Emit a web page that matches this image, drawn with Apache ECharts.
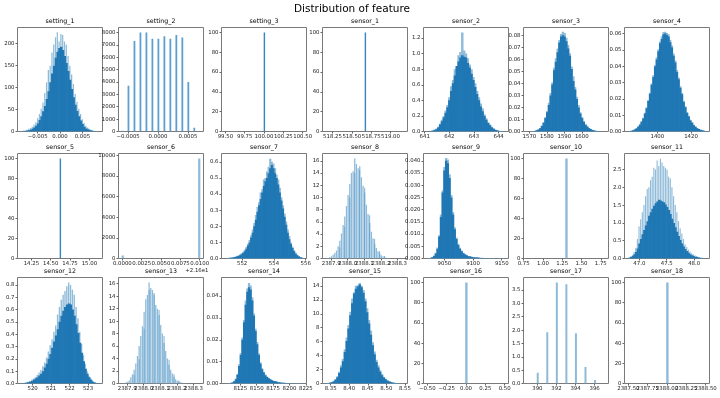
<!DOCTYPE html>
<html><head><meta charset="utf-8">
<script src="https://cdn.jsdelivr.net/npm/echarts@6/dist/echarts.min.js"></script>
<style>html,body{margin:0;padding:0;background:#fff}#c{width:720px;height:398px}</style>
</head><body><div id="c"></div>
<script>
const features = ['setting_1','setting_2','setting_3','sensor_1','sensor_2','sensor_3','sensor_4',
  'sensor_5','sensor_6','sensor_7','sensor_8','sensor_9','sensor_10','sensor_11',
  'sensor_12','sensor_13','sensor_14','sensor_15','sensor_16','sensor_17','sensor_18'];

// ---- tick labels ----
const setting_1_xticks = ['\u22120.005','0.000','0.005'];
const setting_1_yticks = ['0','50','100','150','200'];
const setting_2_xticks = ['\u22120.0005','0.0000','0.0005'];
const setting_2_yticks = ['0','1000','2000','3000','4000','5000','6000','7000','8000'];
const setting_3_xticks = ['99.50','99.75','100.00','100.25','100.50'];
const single_yticks = ['0','20','40','60','80','100'];
const sensor_1_xticks = ['518.25','518.50','518.75','519.00'];
const sensor_2_xticks = ['641','642','643','644'];
const sensor_2_yticks = ['0.0','0.2','0.4','0.6','0.8','1.0','1.2'];
const sensor_3_xticks = ['1570','1580','1590','1600'];
const sensor_3_yticks = ['0.00','0.01','0.02','0.03','0.04','0.05','0.06','0.07','0.08'];
const sensor_4_xticks = ['1400','1420'];
const sensor_4_yticks = ['0.00','0.01','0.02','0.03','0.04','0.05','0.06'];
const sensor_5_xticks = ['14.25','14.50','14.75','15.00'];
const sensor_6_xticks = ['0.0000','0.0025','0.0050','0.0075','0.0100'];
const sensor_6_yticks = ['0','2000','4000','6000','8000','10000'];
const sensor_7_xticks = ['552','554','556'];
const sensor_7_yticks = ['0.0','0.1','0.2','0.3','0.4','0.5','0.6'];
const sensor_8_xticks = ['2387.9','2388.0','2388.1','2388.2','2388.3'];
const sensor_8_yticks = ['0','2','4','6','8','10','12','14','16'];
const sensor_9_xticks = ['9050','9100','9150'];
const sensor_9_yticks = ['0.000','0.005','0.010','0.015','0.020','0.025','0.030','0.035','0.040'];
const sensor_10_xticks = ['0.75','1.00','1.25','1.50','1.75'];
const sensor_11_xticks = ['47.0','47.5','48.0'];
const sensor_11_yticks = ['0.0','0.5','1.0','1.5','2.0','2.5'];
const sensor_12_xticks = ['520','521','522','523'];
const sensor_12_yticks = ['0.0','0.1','0.2','0.3','0.4','0.5','0.6','0.7','0.8'];
const sensor_13_xticks = ['2387.9','2388.0','2388.1','2388.2','2388.3'];
const sensor_13_yticks = ['0','2','4','6','8','10','12','14','16'];
const sensor_14_xticks = ['8125','8150','8175','8200','8225'];
const sensor_14_yticks = ['0.00','0.01','0.02','0.03','0.04'];
const sensor_15_xticks = ['8.35','8.40','8.45','8.50','8.55'];
const sensor_15_yticks = ['0','2','4','6','8','10','12','14'];
const sensor_16_xticks = ['\u22120.50','\u22120.25','0.00','0.25','0.50'];
const sensor_17_xticks = ['390','392','394','396'];
const sensor_17_yticks = ['0.0','0.5','1.0','1.5','2.0','2.5','3.0','3.5'];
const sensor_18_xticks = ['2387.50','2387.75','2388.00','2388.25','2388.50'];

// ---- histogram data: bins = [first edge, bin width]; heights = density ----
const setting_1_bins = [-0.0088, 0.0004];
const setting_1_light = [1,2,3,4,6,8,11,16,21,30,40,52,66,88,112,140,150,180,198,215,226,205,222,220,205,198,172,150,130,108,86,68,52,40,28,20,13,9,6,4,2,1,1,0];
const setting_1_dark = [0,1,1,2,3,4,6,9,13,18,26,35,46,58,74,92,112,132,150,168,182,190,193,186,172,156,138,118,97,78,61,47,35,25,17,11,7,5,3,2,1,1,0,0];

const setting_2_x = [-0.0006,-0.0005,-0.0004,-0.0003,-0.0002,-0.0001,0,0.0001,0.0002,0.0003,0.0004,0.0005,0.0006];
const setting_2_h = [60,3700,7300,8000,8000,7500,7500,7700,7500,7800,7600,4000,300];

const setting_3_x = [100]; const setting_3_h = [100];
const sensor_1_x = [518.67]; const sensor_1_h = [100];

const sensor_2_bins = [641.2, 0.075];
const sensor_2_light = [0.01,0.015,0.025,0.04,0.06,0.1,0.15,0.2,0.27,0.34,0.44,0.58,0.66,0.8,0.82,0.98,1.02,1.27,1.04,1.0,0.94,0.86,0.8,0.7,0.62,0.52,0.44,0.36,0.3,0.22,0.17,0.12,0.09,0.06,0.04,0.025,0.015,0.01,0.005,0.003];
const sensor_2_dark = [0.005,0.01,0.02,0.03,0.05,0.09,0.13,0.18,0.24,0.31,0.40,0.52,0.62,0.72,0.84,0.90,0.95,0.98,0.96,0.95,0.88,0.82,0.74,0.66,0.57,0.48,0.40,0.32,0.26,0.20,0.15,0.11,0.08,0.05,0.035,0.02,0.012,0.008,0.004,0.002];

const sensor_3_bins = [1569.5, 1];
const sensor_3_light = [0.0001,0.0002,0.0004,0.0007,0.0012,0.002,0.003,0.005,0.0078,0.012,0.017,0.024,0.032,0.041,0.053,0.061,0.069,0.076,0.081,0.083,0.082,0.078,0.072,0.065,0.054,0.046,0.037,0.029,0.022,0.016,0.012,0.0088,0.0062,0.0045,0.003,0.002,0.0014,0.0009,0.0006,0.0004,0.0002,0.0001,0.0001,0];
const sensor_3_dark = [0,0,0.0003,0.0005,0.001,0.0015,0.0027,0.0045,0.007,0.011,0.016,0.022,0.030,0.039,0.051,0.058,0.066,0.074,0.079,0.080,0.079,0.075,0.069,0.063,0.052,0.042,0.035,0.027,0.020,0.015,0.011,0.008,0.0055,0.004,0.0027,0.0018,0.0012,0.0008,0.0005,0.0003,0.0002,0.0001,0,0];

const sensor_4_bins = [1383, 1];
const sensor_4_light = [0.0003,0.0005,0.0008,0.0014,0.0021,0.0031,0.0044,0.0063,0.0084,0.0115,0.0148,0.0193,0.0238,0.0295,0.0345,0.0408,0.0455,0.0505,0.0552,0.0585,0.061,0.0612,0.0605,0.0596,0.0562,0.0528,0.0478,0.0436,0.0378,0.0332,0.0278,0.0236,0.0188,0.0155,0.0119,0.0096,0.0072,0.0056,0.0041,0.0031,0.0022,0.0016,0.0011,0.0008,0.0005,0.0003,0.0001];
const sensor_4_dark = [0.0002,0.0004,0.0007,0.0012,0.0019,0.0029,0.0041,0.006,0.008,0.0111,0.0142,0.0187,0.0231,0.0287,0.0334,0.0398,0.0442,0.0492,0.0541,0.0568,0.0597,0.0601,0.0592,0.0583,0.0548,0.0515,0.0464,0.0424,0.0365,0.0321,0.0268,0.0228,0.0181,0.0149,0.0114,0.0092,0.0068,0.0053,0.0038,0.0029,0.002,0.0015,0.001,0.0007,0.0004,0.0002,0.0001];

const sensor_5_x = [14.62]; const sensor_5_h = [100];

const sensor_6_x = [0, 0.0099]; const sensor_6_h = [300, 9700];

const sensor_7_bins = [551.0, 0.1];
const sensor_7_light = [0.003,0.004,0.005,0.006,0.008,0.011,0.015,0.02,0.025,0.032,0.042,0.055,0.072,0.092,0.115,0.145,0.18,0.22,0.27,0.32,0.35,0.41,0.43,0.49,0.5,0.54,0.57,0.62,0.6,0.59,0.56,0.52,0.49,0.44,0.38,0.33,0.28,0.23,0.18,0.14,0.1,0.075,0.052,0.035,0.024,0.015,0.009,0.005];
const sensor_7_dark = [0.002,0.003,0.004,0.005,0.007,0.009,0.012,0.016,0.02,0.026,0.034,0.045,0.06,0.08,0.1,0.13,0.16,0.2,0.24,0.29,0.33,0.37,0.41,0.45,0.48,0.5,0.53,0.56,0.58,0.56,0.53,0.5,0.46,0.41,0.36,0.31,0.26,0.21,0.16,0.12,0.09,0.065,0.045,0.03,0.02,0.012,0.007,0.004];

const sensor_8_bins = [2387.87, 0.01];
const sensor_8_light = [0.05,0.1,0.2,0.35,0.6,0.9,1.3,2.0,2.9,4.1,5.5,6.9,8.6,10.4,12.2,14.0,14.3,16.4,15.5,14.8,15.1,13.3,11.9,10.8,8.8,7.3,5.8,4.4,3.3,2.4,1.7,1.2,0.8,0.55,0.35,0.22,0.14,0.09,0.05,0.03,0.02,0.01,0.01,0,0];
const sensor_8_dark_x = [2387.95,2387.98,2388.01,2388.04,2388.07,2388.10,2388.13,2388.16,2388.19,2388.22];
const sensor_8_dark_h = [1.8,5.2,10.0,14.0,14.5,11.6,7.1,3.2,1.2,0.4];

const sensor_9_bins = [9021, 3];
const sensor_9_light = [0.0002,0.0003,0.0006,0.0012,0.0024,0.0045,0.0095,0.018,0.028,0.0375,0.0412,0.0405,0.0345,0.026,0.019,0.0128,0.0086,0.006,0.0044,0.0033,0.0024,0.0018,0.0014,0.001,0.0009,0.0007,0.0006,0.0005,0.0005,0.0004,0.0003,0.0003,0.0002,0.0002,0.0002,0.0002,0.0001,0.0001,0.0001,0.0001,0.0001,0.0001,0.0001,0.0001,0.0001];
const sensor_9_dark = [0.0001,0.0002,0.0005,0.001,0.002,0.004,0.009,0.017,0.027,0.036,0.040,0.039,0.033,0.025,0.018,0.012,0.008,0.0055,0.004,0.003,0.0022,0.0016,0.0012,0.0009,0.0008,0.0006,0.0005,0.0004,0.0004,0.0003,0.0002,0.0002,0.0002,0.0001,0.0002,0.0001,0.0001,0.0001,0,0.0001,0.0001,0,0.0001,0,0.0001];

const sensor_10_x = [1.3]; const sensor_10_h = [100];

const sensor_11_bins = [46.8, 0.03];
const sensor_11_light = [0.03,0.06,0.1,0.18,0.3,0.55,0.9,1.1,1.3,1.5,1.75,1.95,2.0,2.2,2.3,2.55,2.5,2.75,2.6,2.8,2.7,2.6,2.55,2.5,2.3,2.25,2.0,1.75,1.5,1.3,1.05,0.85,0.7,0.55,0.4,0.32,0.25,0.2,0.15,0.12,0.09,0.07,0.05,0.03,0.02,0.02,0.01];
const sensor_11_dark = [0.02,0.04,0.07,0.12,0.18,0.28,0.42,0.55,0.68,0.8,0.93,1.05,1.2,1.3,1.4,1.48,1.55,1.6,1.65,1.63,1.6,1.58,1.52,1.45,1.36,1.25,1.12,1.0,0.88,0.75,0.63,0.52,0.42,0.34,0.27,0.21,0.16,0.12,0.09,0.07,0.05,0.04,0.03,0.02,0.01,0.01,0.005];

const sensor_12_bins = [519.3, 0.1];
const sensor_12_light = [0.003,0.005,0.007,0.01,0.015,0.02,0.03,0.04,0.05,0.07,0.09,0.11,0.14,0.17,0.21,0.26,0.31,0.36,0.42,0.47,0.56,0.62,0.68,0.72,0.75,0.79,0.82,0.8,0.76,0.72,0.62,0.53,0.42,0.32,0.23,0.16,0.1,0.06,0.04,0.02,0.01,0.005,0.003];
const sensor_12_dark = [0.002,0.003,0.005,0.007,0.01,0.015,0.02,0.03,0.04,0.05,0.065,0.08,0.1,0.13,0.16,0.2,0.24,0.29,0.34,0.39,0.44,0.5,0.55,0.59,0.62,0.64,0.65,0.64,0.6,0.55,0.48,0.41,0.33,0.25,0.18,0.12,0.08,0.05,0.03,0.015,0.008,0.004,0.002];

const sensor_13_bins = [2387.87, 0.01];
const sensor_13_light = [0.05,0.08,0.15,0.3,0.5,1.0,1.5,2.2,3.2,4.4,6.0,7.6,9.2,11.5,13.5,14.2,16.2,15.3,15.0,14.5,12.6,12.0,11.0,9.4,8.0,6.5,5.2,4.0,3.0,2.2,1.6,1.1,0.7,0.45,0.3,0.2,0.12,0.08,0.05,0.03,0.02,0.01,0.01,0,0];
const sensor_13_dark_x = [2387.94,2387.97,2388.00,2388.03,2388.06,2388.09,2388.12,2388.15,2388.18,2388.21];
const sensor_13_dark_h = [1.4,3.9,8.8,15.0,14.2,11.8,7.6,3.8,1.5,0.5];

const sensor_14_bins = [8104, 2.5];
const sensor_14_light = [0.0001,0.0002,0.0003,0.0006,0.0012,0.0023,0.0045,0.0088,0.014,0.021,0.029,0.038,0.0435,0.046,0.0448,0.0395,0.032,0.025,0.019,0.0138,0.0097,0.007,0.0054,0.0041,0.0032,0.0026,0.002,0.0016,0.0013,0.0011,0.0009,0.0007,0.0006,0.0004,0.0003,0.0003,0.0002,0.0002,0.0001,0.0001,0.0001,0.0001,0.0001,0.0001,0.0001,0.0001];
const sensor_14_dark = [0,0.0001,0.0002,0.0005,0.001,0.002,0.004,0.008,0.013,0.02,0.028,0.036,0.042,0.044,0.043,0.038,0.031,0.024,0.018,0.013,0.009,0.0065,0.005,0.0038,0.003,0.0024,0.0019,0.0015,0.0012,0.001,0.0008,0.0006,0.0005,0.0004,0.0003,0.0002,0.0002,0.0001,0.0001,0.0001,0.0001,0.0001,0,0.0001,0,0.0001];

const sensor_15_bins = [8.33, 0.005];
const sensor_15_light = [0.03,0.05,0.08,0.13,0.22,0.38,0.65,1.05,1.7,2.6,3.5,4.9,6.6,8.4,10.3,12.2,13.1,14.0,14.1,14.4,14.0,13.4,12.2,10.8,9.1,7.6,5.9,4.6,3.4,2.6,1.9,1.35,0.95,0.68,0.47,0.32,0.21,0.14,0.09,0.06,0.04,0.02,0.02,0.01];
const sensor_15_dark = [0.02,0.03,0.05,0.09,0.17,0.3,0.55,0.9,1.5,2.3,3.2,4.5,6.1,7.9,9.8,11.5,12.9,13.6,13.9,14.2,13.8,13.0,11.8,10.2,8.6,7.0,5.5,4.2,3.1,2.3,1.7,1.2,0.85,0.6,0.4,0.28,0.18,0.12,0.08,0.05,0.03,0.02,0.01,0.01];

const sensor_16_x = [0]; const sensor_16_h = [100];
const sensor_17_x = [389,390,391,392,393,394,395,396];
const sensor_17_h = [0.02,0.4,1.92,3.78,3.72,1.88,0.62,0.13];
const sensor_18_x = [2388.0]; const sensor_18_h = [100];

// ---- styling / layout ----
const DARK = '#1f77b4', LIGHT = '#8fbbd9', MID = '#5d9fd0';
const FONT = '"DejaVu Sans", sans-serif';
const TICKFONT = 5.4;
const colLeft = [17.5, 118.5, 221.5, 322.5, 423.5, 523.5, 624.5];
const rowTop = [27.5, 153.5, 277.5];
const rowH = [104, 105, 106];
const plotW = 85;

const panels = [
  {xr:[-0.0095,0.0095], ymax:237, xt:setting_1_xticks, yt:setting_1_yticks,
   layers:[{bins:setting_1_bins,h:setting_1_light,c:LIGHT,gap:0.3},{bins:setting_1_bins,h:setting_1_dark,c:DARK}]},
  {xr:[-0.00066,0.00076], ymax:8400, xt:setting_2_xticks, yt:setting_2_yticks,
   layers:[{x:setting_2_x,h:setting_2_h,w:0.000013,c:MID,px:1.8}]},
  {xr:[99.45,100.55], ymax:105, xt:setting_3_xticks, yt:single_yticks,
   layers:[{x:setting_3_x,h:setting_3_h,w:0.01,c:'#3485c0',px:1.4}]},
  {xr:[518.12,519.22], ymax:105, xt:sensor_1_xticks, yt:single_yticks,
   layers:[{x:sensor_1_x,h:sensor_1_h,w:0.01,c:'#3485c0',px:1.4}]},
  {xr:[640.95,644.4], ymax:1.335, xt:sensor_2_xticks, yt:sensor_2_yticks,
   layers:[{bins:sensor_2_bins,h:sensor_2_light,c:LIGHT},{bins:sensor_2_bins,h:sensor_2_dark,c:DARK}]},
  {xr:[1566.6,1615.3], ymax:0.0865, xt:sensor_3_xticks, yt:sensor_3_yticks,
   layers:[{bins:sensor_3_bins,h:sensor_3_light,c:LIGHT},{bins:sensor_3_bins,h:sensor_3_dark,c:DARK}]},
  {xr:[1380.5,1431], ymax:0.0638, xt:sensor_4_xticks, yt:sensor_4_yticks,
   layers:[{bins:sensor_4_bins,h:sensor_4_light,c:LIGHT},{bins:sensor_4_bins,h:sensor_4_dark,c:DARK}]},
  {xr:[14.07,15.17], ymax:105, xt:sensor_5_xticks, yt:single_yticks,
   layers:[{x:sensor_5_x,h:sensor_5_h,w:0.01,c:'#3485c0',px:1.4}]},
  {xr:[-0.0005,0.0105], ymax:10185, xt:sensor_6_xticks, yt:sensor_6_yticks, offset:'+2.16e1',
   layers:[{x:sensor_6_x,h:sensor_6_h,w:0.0001,c:LIGHT,px:2.2}]},
  {xr:[550.7,556.05], ymax:0.652, xt:sensor_7_xticks, yt:sensor_7_yticks,
   layers:[{bins:sensor_7_bins,h:sensor_7_light,c:LIGHT},{bins:sensor_7_bins,h:sensor_7_dark,c:DARK}]},
  {xr:[2387.848,2388.36], ymax:17.2, xt:sensor_8_xticks, yt:sensor_8_yticks,
   layers:[{bins:sensor_8_bins,h:sensor_8_light,c:LIGHT,narrow:0.0046,px:1.3},{x:sensor_8_dark_x,h:sensor_8_dark_h,w:0.0046,c:MID,px:0.8}]},
  {xr:[9013.5,9161.8], ymax:0.043, xt:sensor_9_xticks, yt:sensor_9_yticks,
   layers:[{bins:sensor_9_bins,h:sensor_9_light,c:LIGHT},{bins:sensor_9_bins,h:sensor_9_dark,c:DARK}]},
  {xr:[0.748,1.85], ymax:105, xt:sensor_10_xticks, yt:single_yticks,
   layers:[{x:sensor_10_x,h:sensor_10_h,w:0.01,c:LIGHT,px:2.4}]},
  {xr:[46.73,48.28], ymax:2.95, xt:sensor_11_xticks, yt:sensor_11_yticks,
   layers:[{bins:sensor_11_bins,h:sensor_11_light,c:LIGHT,gap:0.3},{bins:sensor_11_bins,h:sensor_11_dark,c:DARK}]},
  {xr:[519.18,523.78], ymax:0.86, xt:sensor_12_xticks, yt:sensor_12_yticks,
   layers:[{bins:sensor_12_bins,h:sensor_12_light,c:LIGHT,gap:0.25},{bins:sensor_12_bins,h:sensor_12_dark,c:DARK}]},
  {xr:[2387.848,2388.36], ymax:17.0, xt:sensor_13_xticks, yt:sensor_13_yticks,
   layers:[{bins:sensor_13_bins,h:sensor_13_light,c:LIGHT,narrow:0.0046,px:1.3},{x:sensor_13_dark_x,h:sensor_13_dark_h,w:0.0046,c:MID,px:0.8}]},
  {xr:[8096.2,8226], ymax:0.0485, xt:sensor_14_xticks, yt:sensor_14_yticks,
   layers:[{bins:sensor_14_bins,h:sensor_14_light,c:LIGHT},{bins:sensor_14_bins,h:sensor_14_dark,c:DARK}]},
  {xr:[8.328,8.557], ymax:15.2, xt:sensor_15_xticks, yt:sensor_15_yticks,
   layers:[{bins:sensor_15_bins,h:sensor_15_light,c:LIGHT},{bins:sensor_15_bins,h:sensor_15_dark,c:DARK}]},
  {xr:[-0.55,0.55], ymax:105, xt:sensor_16_xticks, yt:single_yticks,
   layers:[{x:sensor_16_x,h:sensor_16_h,w:0.01,c:LIGHT,px:2.4}]},
  {xr:[388.55,397.45], ymax:3.97, xt:sensor_17_xticks, yt:sensor_17_yticks,
   layers:[{x:sensor_17_x,h:sensor_17_h,w:0.08,c:LIGHT,px:2.0}]},
  {xr:[2387.45,2388.55], ymax:105, xt:sensor_18_xticks, yt:single_yticks,
   layers:[{x:sensor_18_x,h:sensor_18_h,w:0.01,c:LIGHT,px:2.4}]}
];

function num(s){ return parseFloat(String(s).replace('\u2212','-')); }
function labelFor(list, v){
  let best = list[0], bd = Infinity;
  list.forEach(s => { const d = Math.abs(num(s) - v); if (d < bd) { bd = d; best = s; } });
  return best;
}
function buildLayer(L){
  const out = [];
  if (L.bins) {
    const s = L.bins[0], st = L.bins[1];
    const w = L.narrow || st;
    L.h.forEach((v,i) => { if (v > 0) out.push([s + i*st, s + i*st + w, v]); });
  } else {
    L.x.forEach((x,i) => { if (L.h[i] > 0) out.push([x, x + L.w, L.h[i]]); });
  }
  return out;
}
function makeRender(L){
  const gap = L.gap || 0, minPx = L.px || 0, contiguous = !!L.bins && !L.narrow && !gap;
  return function(params, api){
    const x0 = api.value(0), x1 = api.value(1), y = api.value(2);
    const pt = api.coord([x0, y]);
    const pb = api.coord([x1, 0]);
    let left = pt[0], w = pb[0] - pt[0];
    if (gap) { left += w*gap/2; w *= (1-gap); }
    if (contiguous) w += 0.6;
    if (w < minPx) { const c = (pt[0] + pb[0]) / 2; left = c - minPx/2; w = minPx; }
    return {type:'rect', shape:{x:left, y:pt[1], width:w, height:pb[1]-pt[1]}, style:{fill:L.c}};
  };
}
function textEl(x, y, text, size, align, valign, fill){
  return {type:'text', x:x, y:y, silent:true, style:{text:text, font:size + 'px ' + FONT, fill:fill || '#000',
    align:align, verticalAlign:valign, textAlign:align, textVerticalAlign:valign}};
}

const grids = [], xAxes = [], yAxes = [], series = [], graphics = [];
graphics.push(textEl(352, 9, 'Distribution of feature', 10.5, 'center', 'middle'));

panels.forEach((P, i) => {
  const r = Math.floor(i / 7), c = i % 7;
  grids.push({left:colLeft[c], top:rowTop[r], width:plotW, height:rowH[r], show:true,
    borderColor:'#7a7a7a', borderWidth:1, backgroundColor:'transparent', containLabel:false, outerBoundsMode:'none'});
  const xv = P.xt.map(num), yv = P.yt.map(num);
  xAxes.push({type:'value', gridIndex:i, min:P.xr[0], max:P.xr[1], scale:true,
    axisLine:{show:false, onZero:false}, splitLine:{show:false},
    axisTick:{show:true, length:2, lineStyle:{color:'#666', width:1}, customValues:xv},
    axisLabel:{show:false}});
  yAxes.push({type:'value', gridIndex:i, min:0, max:P.ymax,
    axisLine:{show:false, onZero:false}, splitLine:{show:false},
    axisTick:{show:true, length:2, lineStyle:{color:'#666', width:1}, customValues:yv},
    axisLabel:{show:true, customValues:yv, formatter:(v)=>labelFor(P.yt, v), fontSize:TICKFONT, fontFamily:FONT, color:'#222', margin:3,
      hideOverlap:false, showMinLabel:true, showMaxLabel:true}});
  P.layers.forEach(L => {
    series.push({type:'custom', xAxisIndex:i, yAxisIndex:i, clip:true, silent:true, animation:false,
      encode:{x:[0,1], y:2}, data:buildLayer(L), renderItem:makeRender(L)});
  });
  graphics.push(textEl(colLeft[c] + plotW/2, rowTop[r] - 6, features[i], 6.3, 'center', 'middle'));
  if (P.offset) {
    graphics.push(textEl(colLeft[c] + plotW + 5, rowTop[r] + rowH[r] + 12, P.offset, TICKFONT, 'right', 'middle', '#222'));
  }
});

const chart = echarts.init(document.getElementById('c'), null, {renderer:'canvas'});
chart.setOption({animation:false, backgroundColor:'#fff', grid:grids, xAxis:xAxes, yAxis:yAxes, series:series, graphic:graphics});

// x tick labels placed through each panel's own x scale (all shown, overlapping like the original)
const xLabelEls = [];
panels.forEach((P, i) => {
  const r = Math.floor(i / 7);
  P.xt.forEach(s => {
    const px = chart.convertToPixel({xAxisIndex:i}, num(s));
    xLabelEls.push(textEl(px, rowTop[r] + rowH[r] + 3, s, TICKFONT, 'center', 'top', '#222'));
  });
});
chart.setOption({graphic: graphics.concat(xLabelEls)});
</script></body></html>
